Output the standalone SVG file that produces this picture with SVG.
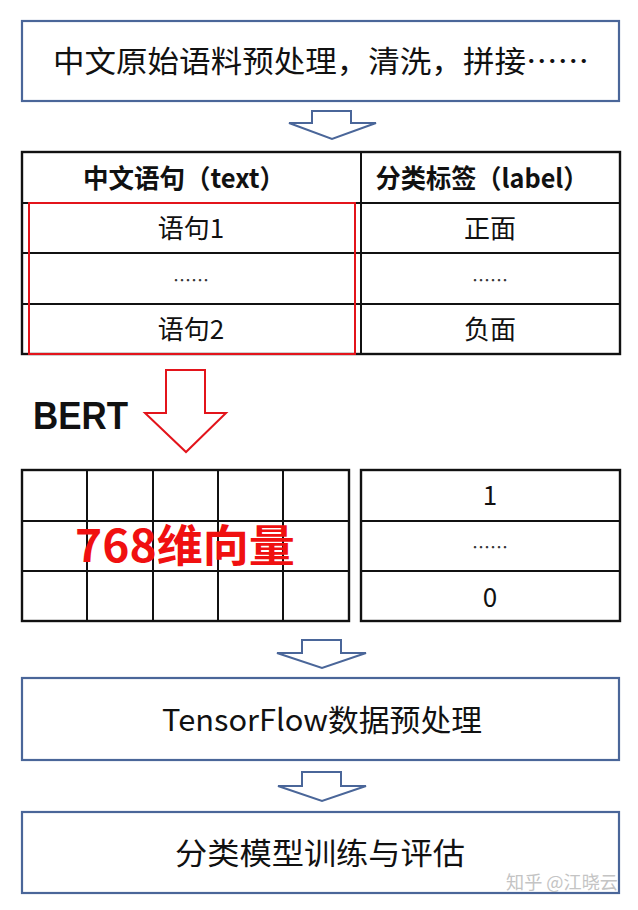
<svg xmlns="http://www.w3.org/2000/svg" width="638" height="910" viewBox="0 0 638 910">
<style>
.bbox{fill:#ffffff;stroke:#4a6699;stroke-width:2.2}
.barrow{fill:#ffffff;stroke:#4a6699;stroke-width:2;stroke-linejoin:miter}
.rarrow{fill:#ffffff;stroke:#e3141b;stroke-width:2;stroke-linejoin:miter}
.tline{stroke:#111111;stroke-width:2;fill:none}
.tout{stroke:#111111;stroke-width:2.4;fill:#ffffff}
.t{font-family:"Noto Sans CJK SC","Liberation Sans",sans-serif;fill:#111111;text-anchor:middle}
.big{font-size:30px}
.cell{font-size:26px}
.hdr{font-size:26px;font-weight:bold}
.dots{font-size:18px;fill:#333333}
</style>
<rect width="638" height="910" fill="#ffffff"/>

<g id="node-preprocess">
<rect class="bbox" x="22" y="21" width="597" height="80"/>
<text class="t big" x="321" y="72" textLength="536" lengthAdjust="spacingAndGlyphs">中文原始语料预处理，清洗，拼接……</text>
</g>

<g id="node-table1">
<rect class="tout" x="22" y="152" width="598" height="202"/>
<line class="tline" x1="22" y1="203" x2="620" y2="203"/>
<line class="tline" x1="22" y1="253" x2="620" y2="253"/>
<line class="tline" x1="22" y1="304" x2="620" y2="304"/>
<line class="tline" x1="361" y1="152" x2="361" y2="354"/>
<text class="t hdr" x="184" y="188" textLength="202" lengthAdjust="spacingAndGlyphs">中文语句（text）</text>
<text class="t hdr" x="482" y="188" textLength="213" lengthAdjust="spacingAndGlyphs">分类标签（label）</text>
<text class="t cell" x="191" y="238">语句1</text>
<text class="t cell" x="490" y="238">正面</text>
<text class="t dots" x="191" y="287">……</text>
<text class="t dots" x="490" y="287">……</text>
<text class="t cell" x="191" y="339">语句2</text>
<text class="t cell" x="490" y="339">负面</text>
<rect x="29" y="203" width="326" height="151" fill="none" stroke="#e3141b" stroke-width="2"/>
</g>

<g id="node-bert">
<text x="33" y="429" font-family="Liberation Sans, sans-serif" font-weight="bold" font-size="38" fill="#111111" textLength="95" lengthAdjust="spacingAndGlyphs">BERT</text>
</g>

<g id="node-vectors">
<rect class="tout" x="22" y="470" width="327" height="151"/>
<line class="tline" x1="22" y1="521" x2="349" y2="521"/>
<line class="tline" x1="22" y1="571" x2="349" y2="571"/>
<line class="tline" x1="87" y1="470" x2="87" y2="621"/>
<line class="tline" x1="153" y1="470" x2="153" y2="621"/>
<line class="tline" x1="218" y1="470" x2="218" y2="621"/>
<line class="tline" x1="283" y1="470" x2="283" y2="621"/>
<text x="75" y="562" font-family="Noto Sans CJK SC, Liberation Sans, sans-serif" font-weight="bold" font-size="44" fill="#f01010" textLength="220" lengthAdjust="spacingAndGlyphs">768维向量</text>
</g>

<g id="node-labels">
<rect class="tout" x="361" y="470" width="259" height="151"/>
<line class="tline" x1="361" y1="521" x2="620" y2="521"/>
<line class="tline" x1="361" y1="571" x2="620" y2="571"/>
<text class="t cell" x="490" y="505">1</text>
<text class="t dots" x="490" y="554">……</text>
<text class="t cell" x="490" y="607">0</text>
</g>

<g id="node-tf">
<rect class="bbox" x="22" y="678" width="597" height="82"/>
<text class="t big" x="322" y="731" font-size="28" textLength="320" lengthAdjust="spacingAndGlyphs">TensorFlow数据预处理</text>
</g>

<g id="node-train">
<rect class="bbox" x="22" y="812" width="597" height="81"/>
<text class="t big" x="320" y="864" textLength="290" lengthAdjust="spacingAndGlyphs">分类模型训练与评估</text>
<text x="562" y="889" font-family="Noto Sans CJK SC, sans-serif" font-size="18" fill="#c4c4c4" text-anchor="middle" textLength="112" lengthAdjust="spacingAndGlyphs">知乎 @江晓云</text>
</g>

<g id="connectors">
<path class="barrow" d="M312,111 H351 V123 H376 L332,139 L289,123 H312 Z"/>
<path class="rarrow" d="M166,370 H205 V413 H226 L186,452 L145,413 H166 Z"/>
<path class="barrow" d="M302,640 H341 V653 H366 L322,668 L277,653 H302 Z"/>
<path class="barrow" d="M302,772 H341 V786 H366 L322,801 L278,786 H302 Z"/>
</g>
</svg>
